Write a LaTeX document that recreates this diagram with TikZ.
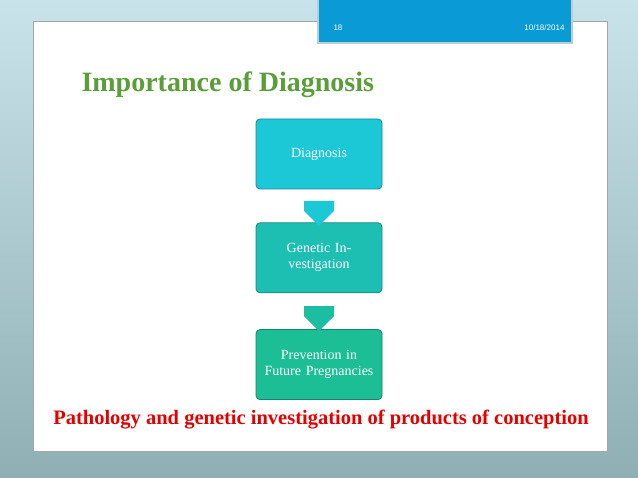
\documentclass[tikz,border=0pt]{standalone}
\usepackage{fontspec}
\setmainfont{Liberation Serif}
\newfontfamily\hdrfont{Liberation Sans}
\usetikzlibrary{positioning,shapes.arrows,calc}
\definecolor{bgteal}{HTML}{8FAFB5}
\definecolor{bglight}{HTML}{C9E3EA}
\definecolor{hdrblue}{HTML}{0A9BD6}
\definecolor{titlegreen}{HTML}{5A9E3A}
\definecolor{stepA}{HTML}{1CC8D6}
\definecolor{stepB}{HTML}{1EBFB3}
\definecolor{stepC}{HTML}{1BBE95}
\tikzset{
  stepbox/.style={draw=#1!70!black, line width=0.8pt, fill=#1, rounded corners=4pt,
    minimum width=126pt, minimum height=70pt, text width=115pt, align=center,
    text=white, font=\fontsize{14}{16}\selectfont},
  downarrow/.style={single arrow, shape border rotate=270, fill=#1, draw=none,
    minimum width=30pt, single arrow head extend=0pt, minimum height=25pt,
    inner sep=2pt}
}
\begin{document}
\begin{tikzpicture}[x=1pt,y=-1pt]
\useasboundingbox (0,0) rectangle (638,478);
\shade[top color=bglight, bottom color=bgteal] (0,0) rectangle (638,478);
% slide panel
\draw[fill=white, draw=gray!70, line width=1pt] (33,22) rectangle (607,452);
% header
\draw[fill=hdrblue, draw=bglight!80!gray, line width=2pt] (318,-2) rectangle (572,43);
\node[font=\hdrfont\fontsize{8}{9}\selectfont, text=white, anchor=west] (pg) at (330,28) {18};
\node[font=\hdrfont\fontsize{8}{9}\selectfont, text=white, anchor=east] (dt) at (568,28) {10/18/2014};
% title
\node[font=\bfseries\fontsize{28}{30}\selectfont, text=titlegreen, anchor=west] (title) at (78,85) {Importance of Diagnosis};
% flow
\node[stepbox=stepA] (diag) at (319,154) {Diagnosis};
\node[stepbox=stepB, below=33pt of diag] (gen) {Genetic Investigation};
\node[stepbox=stepC, below=36pt of gen] (prev) {Prevention in Future Pregnancies};
\node[downarrow=stepA] (a1) at ($(diag.south)!0.5!(gen.north)$) {};
\node[downarrow=stepC!60!stepB] (a2) at ($(gen.south)!0.5!(prev.north)$) {};
% caption
\node[font=\bfseries\fontsize{20.5}{22}\selectfont, text=red!90!black, anchor=center] (cap) at (321,420) {Pathology and genetic investigation of products of conception};
\end{tikzpicture}
\end{document}
